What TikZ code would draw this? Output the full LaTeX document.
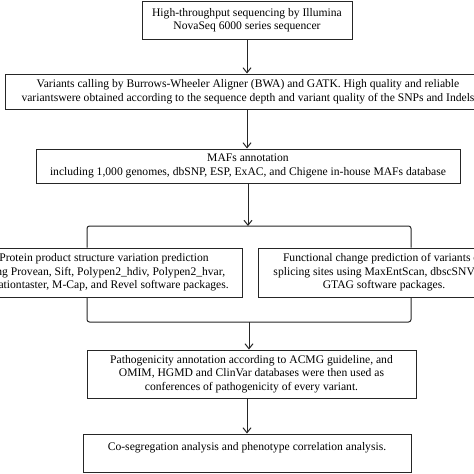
\documentclass[tikz,border=0pt]{standalone}
\usepackage{fontspec}
\setmainfont{Liberation Serif}
\usetikzlibrary{arrows.meta}
\begin{document}
\begin{tikzpicture}[x=1pt,y=-1pt,
  stepbox/.style={draw=black!85,line width=1pt,fill=white,align=center,inner sep=0pt,
    font=\fontsize{11.6}{13.5}\selectfont},
  conn/.style={draw=black!85,line width=1pt},
  arr/.style={conn,-{Straight Barb[length=5pt,width=8pt]}},
  bracket/.style={conn,rounded corners=2.5pt}]
\useasboundingbox (0,0) rectangle (474,474);
\clip (0,0) rectangle (474,474);
\fill[white] (0,0) rectangle (474,474);
\node[stepbox,minimum width=210,minimum height=38] (b1) at (247,20)
  {High-throughput sequencing by Illumina\\NovaSeq 6000 series sequencer};
\node[stepbox,minimum width=486,minimum height=35] (b2) at (248,91.5)
  {Variants calling by Burrows-Wheeler Aligner (BWA) and GATK. High quality and reliable\\variantswere obtained according to the sequence depth and variant quality of the SNPs and Indels};
\node[stepbox,minimum width=424,minimum height=34] (b3) at (248,166)
  {MAFs annotation\\including 1,000 genomes, dbSNP, ESP, ExAC, and Chigene in-house MAFs database};
\node[stepbox,minimum width=276,minimum height=49] (b4) at (104,272.5)
  {Protein product structure variation prediction\\using Provean, Sift, Polypen2\_hdiv, Polypen2\_hvar,\\Mutationtaster, M-Cap, and Revel software packages.};
\node[stepbox,minimum width=252,minimum height=49] (b5) at (384,272.5)
  {Functional change prediction of variants on\\splicing sites using MaxEntScan, dbscSNV and\\GTAG software packages.};
\node[stepbox,minimum width=329,minimum height=48] (b6) at (251.5,374)
  {Pathogenicity annotation according to ACMG guideline, and\\OMIM, HGMD and ClinVar databases were then used as\\conferences of pathogenicity of every variant.};
\node[stepbox,minimum width=328,minimum height=38] (b7) at (247,453)
  {Co-segregation analysis and phenotype correlation analysis.\\\mbox{}};
\coordinate (tl) at (87,226);
\coordinate (tr) at (411,226);
\coordinate (tm) at (248,226);
\coordinate (bl) at (87,322);
\coordinate (br) at (411,322);
\coordinate (bm) at (249,322);
\draw[arr] (b1.south) -- (b1.south |- b2.north);
\draw[arr] (b1.south |- b2.south) -- (b1.south |- b3.north);
\draw[arr] (b3.south) -- (tm);
\draw[bracket] (b4.north -| tl) -- (tl) -- (tr) -- (b5.north -| tr);
\draw[bracket] (b4.south -| bl) -- (bl) -- (br) -- (b5.south -| br);
\draw[arr] (bm) -- (bm |- b6.north);
\draw[arr] (b7.north |- b6.south) -- (b7.north);
\end{tikzpicture}
\end{document}
